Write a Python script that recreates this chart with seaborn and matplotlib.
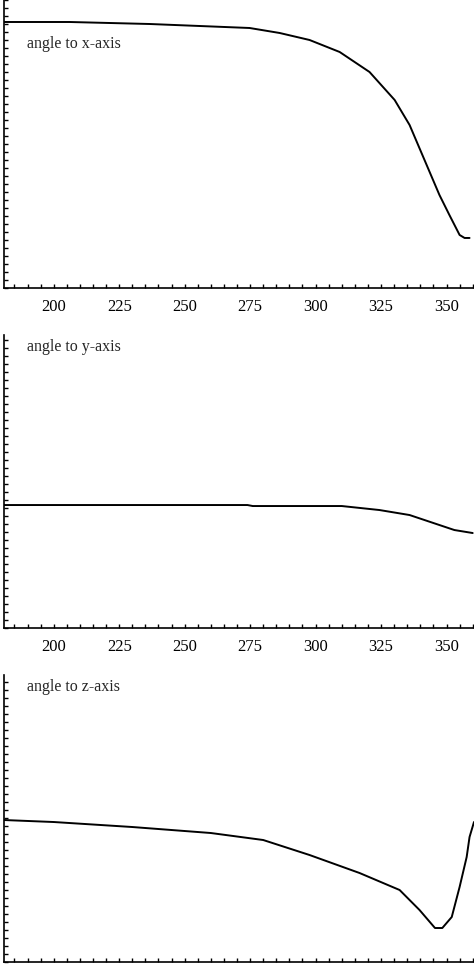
import numpy as np
import pandas as pd
import seaborn as sns
import matplotlib
matplotlib.use("Agg")
import matplotlib.pyplot as plt
from matplotlib.ticker import MultipleLocator, NullFormatter

sns.set_style("white")
plt.rcParams['font.family'] = ['Liberation Serif', 'DejaVu Serif']

# angle curves (arbitrary vertical units)
x_angle = [180.9, 206.1, 236.6, 255.7, 274.8, 286.3, 297.7, 309.2, 320.6, 330.2,
           335.9, 341.6, 347.3, 351.1, 355.0, 356.9, 358.8]
x_vals = [266, 266, 264, 262, 260, 255, 248, 236, 216, 188, 163, 128, 93, 73, 53, 50, 50]

y_x = [180.9, 230.0, 255.0, 274.0, 276.0, 310.0, 324.4, 335.9, 347.3, 353.0, 360.0]
y_vals = [123, 123, 123, 123, 122, 122, 118, 113, 103, 98, 95]

z_x = [180.9, 200.0, 230.0, 260.0, 280.0, 297.7, 316.8, 332.1, 339.7, 345.6, 348.4,
       352.0, 355.0, 357.7, 358.8, 360.5]
z_vals = [142, 140, 135, 129, 122, 107, 89, 72, 52, 34, 34, 45, 75, 105, 125, 140]

panels = [
    (x_angle, x_vals, 'angle to x-axis', [0.0084, 0.7016, 0.9916, 0.2984], 288, 0.875, True),
    (y_x, y_vals, 'angle to y-axis', [0.0084, 0.3492, 0.9916, 0.3036], 293, 0.985, True),
    (z_x, z_vals, 'angle to z-axis', [0.0084, 0.0031, 0.9916, 0.2974], 287, 0.985, False),
]

fig = plt.figure(figsize=(4.74, 9.65), dpi=100)
for xs, ys, label, pos, ymax, ty, show_x in panels:
    ax = fig.add_axes(pos)
    df = pd.DataFrame({'t': xs, 'v': ys})
    sns.lineplot(data=df, x='t', y='v', ax=ax, color='black', linewidth=1.4)
    ax.set_xlim(181, 360.5)
    ax.set_ylim(0, ymax)
    ax.set_xlabel('')
    ax.set_ylabel('')
    ax.xaxis.set_major_locator(MultipleLocator(25))
    ax.xaxis.set_minor_locator(MultipleLocator(5))
    ax.yaxis.set_major_locator(MultipleLocator(16))
    ax.yaxis.set_minor_locator(MultipleLocator(8))
    ax.yaxis.set_major_formatter(NullFormatter())
    if not show_x:
        ax.xaxis.set_major_formatter(NullFormatter())
    ax.tick_params(axis='both', which='both', direction='in', length=3, width=1,
                   colors='black', labelsize=12, bottom=True, left=True)
    ax.tick_params(axis='x', which='major', pad=8)
    for s in ['top', 'right']:
        ax.spines[s].set_visible(False)
    for s in ['left', 'bottom']:
        ax.spines[s].set_color('black')
        ax.spines[s].set_linewidth(1.2)
    ax.text(0.05, ty, label, transform=ax.transAxes, fontsize=11.5,
            va='top', ha='left')

fig.savefig('out.png', dpi=100)
